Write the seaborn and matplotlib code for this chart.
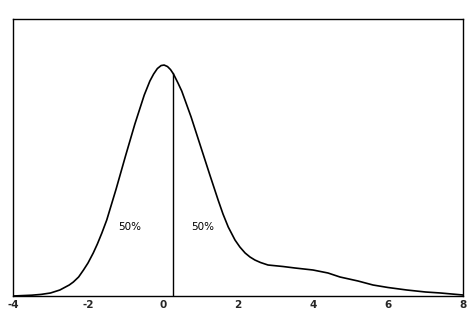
import matplotlib
matplotlib.use("Agg")
import matplotlib.pyplot as plt
import seaborn as sns
import numpy as np

# Density curve (arbitrary height units)
x_vals = [-4.0, -3.5, -3.25, -3.0, -2.75, -2.5, -2.39, -2.25, -2.12, -2.0, -1.86,
          -1.75, -1.63, -1.5, -1.25, -1.0, -0.75, -0.5, -0.35, -0.25, -0.15,
          -0.05, 0.03, 0.12, 0.2, 0.28, 0.4, 0.5, 0.75, 1.0, 1.25, 1.47, 1.6, 1.74, 1.92,
          2.05, 2.19, 2.32, 2.45, 2.6, 2.8, 3.2, 3.52, 4.0, 4.4, 4.72, 5.2, 5.6, 6.0, 6.5,
          7.0, 7.4, 8.0]
density = [0.0, 0.8, 1.6, 3.0, 6.0, 11.0, 14.0, 19.0, 26.0, 33.0, 43.0,
           52.0, 63.0, 76.0, 107.0, 140.0, 172.0, 201.0, 215.0, 222.0, 227.5,
           230.5, 231.0, 229.5, 226.5, 222.0, 213.0, 205.0, 179.0, 150.0, 121.0, 96.0, 82.0, 69.0, 56.0,
           49.0, 43.0, 39.0, 36.0, 33.5, 31.0, 29.5, 28.0, 26.0, 23.0, 19.0, 15.0, 11.0, 8.5, 6.0,
           4.0, 3.0, 1.0]
median_x = 0.27
labels = ["50%", "50%"]
label_x = [-0.9, 1.07]
label_y = 69.0
ticks = [-4, -2, 0, 2, 4, 6, 8]

sns.set_style("white")
plt.rcParams['font.family'] = ['DejaVu Sans']

fig = plt.figure(figsize=(4.74, 3.23), dpi=100)
ax = fig.add_axes([0.0274, 0.0836, 0.9494, 0.8574])

sns.lineplot(x=x_vals, y=density, ax=ax, color="black", lw=1.2, sort=False)
ax.lines[-1].set_solid_joinstyle("round")
ax.plot([median_x, median_x], [0, np.interp(median_x, x_vals, density)], color="black", lw=1.0)

for t, lx in zip(labels, label_x):
    ax.text(lx, label_y, t, ha="center", va="center", fontsize=7.5, color="black")

ax.set_xlim(-4, 8)
ax.set_ylim(0, 277)
ax.set_xticks(ticks)
ax.set_xticklabels([str(t) for t in ticks], fontsize=7.5, fontweight="bold")
ax.set_yticks([])
ax.tick_params(axis="x", direction="inout", length=4, width=0.8, color="black", pad=1)
for s in ax.spines.values():
    s.set_color("black")
    s.set_linewidth(1.0)

fig.savefig("out.png", dpi=100)
